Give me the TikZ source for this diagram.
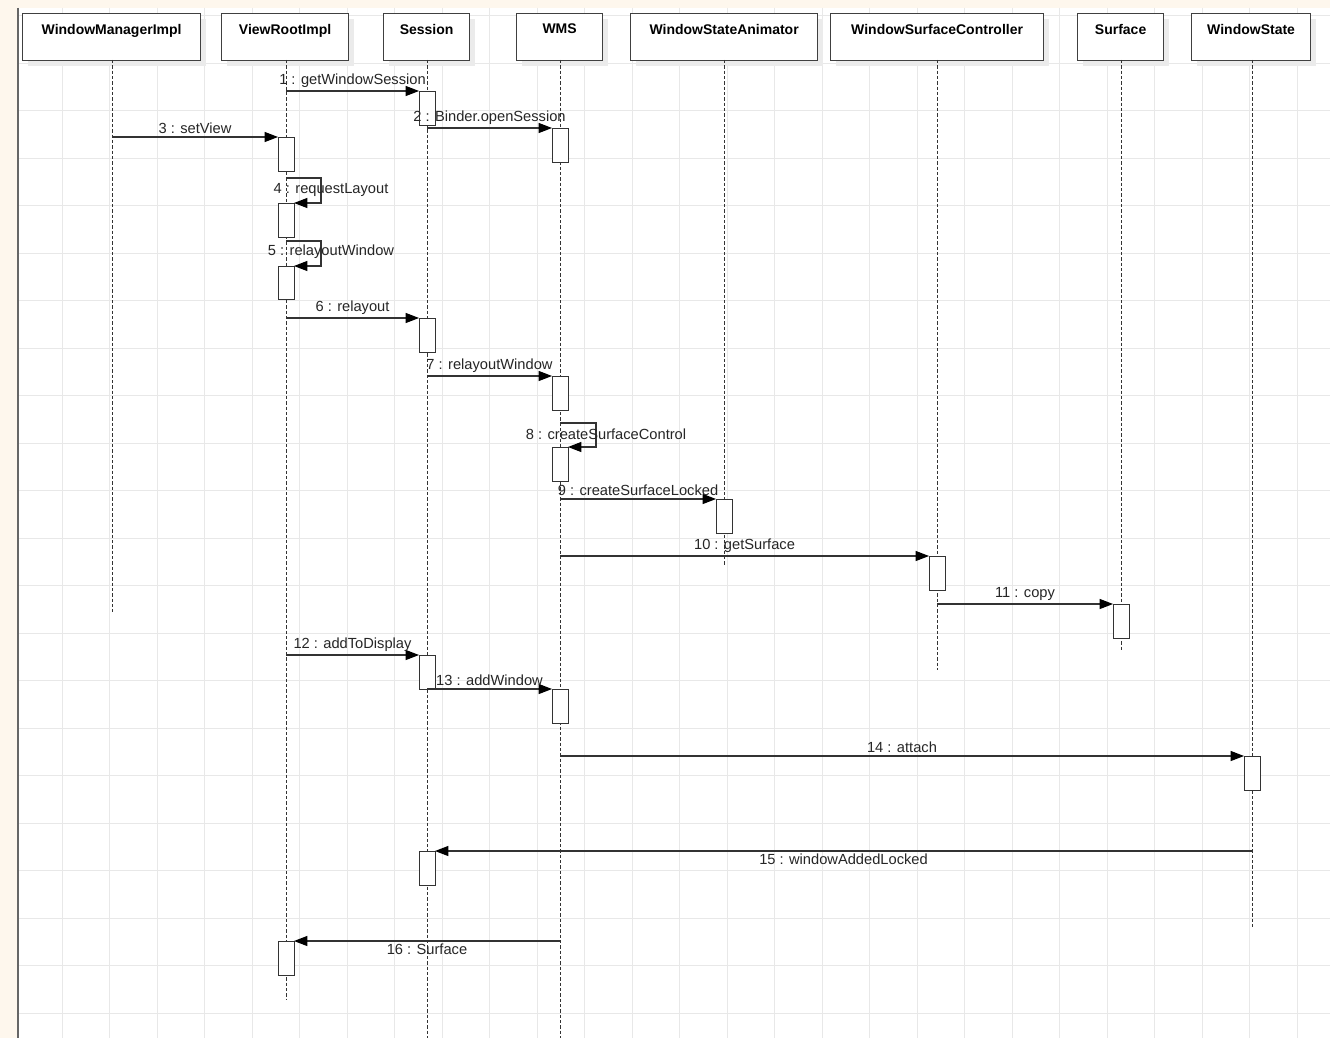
\documentclass[tikz,border=0pt]{standalone}
\usepackage{fontspec}
\setmainfont{Liberation Sans}
\usetikzlibrary{arrows.meta}
\begin{document}
\begin{tikzpicture}[x=0.75pt,y=-0.75pt,
  hdr/.style={draw=black!75,fill=white,line width=0.9pt,minimum height=35pt,text depth=12pt,anchor=north west,font=\bfseries\fontsize{10.5}{12}\selectfont,inner sep=0pt},
  life/.style={dashed,dash pattern=on 2.5pt off 1.5pt,black!80,line width=0.6pt},
  act/.style={draw=black!80,fill=white,line width=0.7pt},
  msg/.style={black!80,line width=0.8pt,-{Triangle[length=10pt,width=7.5pt,color=black]}},
  lab/.style={font=\fontsize{11}{13}\selectfont,inner sep=2pt,text=black!85}]
\useasboundingbox (0,0) rectangle (1330,1038);
\fill[yellow!8!orange!6] (0,0) rectangle (1330,1038);
\fill[white] (18,8) rectangle (1330,1038);
\foreach \x in {62,109.5,...,1330} \draw[black!9,line width=0.5pt] (\x,8) -- (\x,1038);
\foreach \y in {15.5,63,...,1038} \draw[black!9,line width=0.5pt] (18,\y) -- (1330,\y);
\draw[black!60,line width=0.8pt] (18,8) -- (18,1038);
% headers with shadows
\foreach \a/\b in {22/200,221/348,383/469,516/602,630/817,830/1043,1077/1163,1191/1310}
  \fill[black!8] (\a+6,19) rectangle (\b+6,66);
\node[hdr,minimum width=133.5pt] (h1) at (22,13) {WindowManagerImpl};
\node[hdr,minimum width=95.25pt] (h2) at (221,13) {ViewRootImpl};
\node[hdr,minimum width=64.5pt] (h3) at (383,13) {Session};
\node[hdr,minimum width=64.5pt] (h4) at (516,13) {WMS};
\node[hdr,minimum width=140.25pt] (h5) at (630,13) {WindowStateAnimator};
\node[hdr,minimum width=159.75pt] (h6) at (830,13) {WindowSurfaceController};
\node[hdr,minimum width=64.5pt] (h7) at (1077,13) {Surface};
\node[hdr,minimum width=89.25pt] (h8) at (1191,13) {WindowState};
% lifeline ends
\coordinate (e1) at (112,612); \coordinate (e2) at (286,1000);
\coordinate (e3) at (427,1038); \coordinate (e4) at (560,1038);
\coordinate (e5) at (724,565); \coordinate (e6) at (937,670);
\coordinate (e7) at (1121,650); \coordinate (e8) at (1252,928);
\foreach \i/\x in {1/112,2/286,3/427,4/560,5/724,6/937,7/1121,8/1252}
  \draw[life] (\x,60) -- (e\i);
% activations
\foreach \x/\t/\b in {427/91/125,286/137/171,560/128/162,286/203/237,286/266/299,427/318/352,560/376/410,560/447/481,724/499/533,937/556/590,1121/604/638,427/655/689,560/689/723,1252/756/790,427/851/885,286/941/975}
  \draw[act] (\x-8,\t) rectangle (\x+8,\b);
% messages
\coordinate (m1a) at (286,91); \coordinate (m1b) at (419,91);
\draw[msg] (m1a) -- (m1b) node[lab,midway,above] {1 : getWindowSession};
\coordinate (m2a) at (427,128); \coordinate (m2b) at (552,128);
\draw[msg] (m2a) -- (m2b) node[lab,midway,above] {2 : Binder.openSession};
\coordinate (m3a) at (112,137); \coordinate (m3b) at (278,137);
\draw[msg] (m3a) -- (m3b) node[lab,midway,above] {3 : setView};
\coordinate (m4a) at (286,178); \coordinate (m4b) at (294,203);
\draw[msg] (m4a) -- (321,178) -- (321,203) -- (m4b);
\node[lab] (l4) at (331,190) {4 : requestLayout};
\coordinate (m5a) at (286,241); \coordinate (m5b) at (294,266);
\draw[msg] (m5a) -- (321,241) -- (321,266) -- (m5b);
\node[lab] (l5) at (331,252) {5 : relayoutWindow};
\coordinate (m6a) at (286,318); \coordinate (m6b) at (419,318);
\draw[msg] (m6a) -- (m6b) node[lab,midway,above] {6 : relayout};
\coordinate (m7a) at (427,376); \coordinate (m7b) at (552,376);
\draw[msg] (m7a) -- (m7b) node[lab,midway,above] {7 : relayoutWindow};
\coordinate (m8a) at (560,423); \coordinate (m8b) at (568,447);
\draw[msg] (m8a) -- (596,423) -- (596,447) -- (m8b);
\node[lab] (l8) at (606,434) {8 : createSurfaceControl};
\coordinate (m9a) at (560,499); \coordinate (m9b) at (716,499);
\draw[msg] (m9a) -- (m9b) node[lab,midway,above] {9 : createSurfaceLocked};
\coordinate (m10a) at (560,556); \coordinate (m10b) at (929,556);
\draw[msg] (m10a) -- (m10b) node[lab,midway,above] {10 : getSurface};
\coordinate (m11a) at (937,604); \coordinate (m11b) at (1113,604);
\draw[msg] (m11a) -- (m11b) node[lab,midway,above] {11 : copy};
\coordinate (m12a) at (286,655); \coordinate (m12b) at (419,655);
\draw[msg] (m12a) -- (m12b) node[lab,midway,above] {12 : addToDisplay};
\coordinate (m13a) at (427,689); \coordinate (m13b) at (552,689);
\draw[msg] (m13a) -- (m13b) node[lab,midway,above] {13 : addWindow};
\coordinate (m14a) at (560,756); \coordinate (m14b) at (1244,756);
\draw[msg] (m14a) -- (m14b) node[lab,midway,above] {14 : attach};
\coordinate (m15a) at (1252,851); \coordinate (m15b) at (435,851);
\draw[msg] (m15a) -- (m15b) node[lab,midway,below] {15 : windowAddedLocked};
\coordinate (m16a) at (560,941); \coordinate (m16b) at (294,941);
\draw[msg] (m16a) -- (m16b) node[lab,midway,below] {16 : Surface};
\end{tikzpicture}
\end{document}
